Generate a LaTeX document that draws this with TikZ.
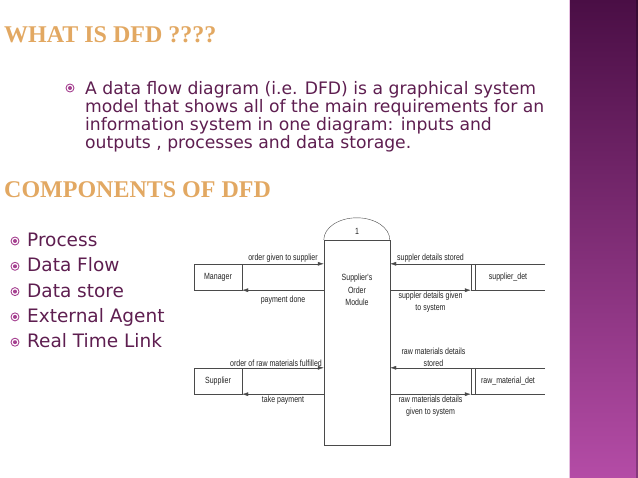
\documentclass[tikz,border=0pt]{standalone}
\usepackage{fontspec}
\setmainfont{DejaVu Sans}
\newfontfamily\titlefont{Liberation Serif}
\newfontfamily\dfdfont[FakeStretch=0.78]{Liberation Sans}
\usetikzlibrary{positioning, arrows.meta, shapes}
\definecolor{plum}{HTML}{5E1E50}
\definecolor{bulletpink}{HTML}{A54090}
\definecolor{peach}{HTML}{E2A862}
\definecolor{bartop}{HTML}{4A0E45}
\definecolor{barbot}{HTML}{B44CA6}
\definecolor{dfdline}{HTML}{4A4A4A}
\definecolor{dfdtxt}{HTML}{222222}
\tikzset{
	% slide heading
	heading/.style={
		anchor=base west,
		inner sep=0pt,
		text=peach,
		font=\titlefont\bfseries\fontsize{24}{24}\selectfont
	}, %
	% bullet mark
	slidebullet/.pic={
		\draw[bulletpink, line width=0.9pt] (0,0) circle (4pt);
		\fill[bulletpink] (0,0) circle (2pt);
	}, %
	% bullet text
	bullettext/.style={
		anchor=base west,
		inner sep=0pt,
		text=plum
	}, %
	% external agent
	entity/.style={
		draw=dfdline,
		minimum width=48pt,
		minimum height=26pt,
		inner sep=0pt,
		text=dfdtxt,
		font=\dfdfont\fontsize{9}{12}\selectfont
	}, %
	% data store
	store/.style={
		minimum width=74pt,
		minimum height=26pt,
		inner sep=0pt,
		text=dfdtxt,
		font=\dfdfont\fontsize{9}{12}\selectfont
	}, %
	% process
	procbox/.style={
		draw=dfdline,
		minimum width=66pt,
		minimum height=205pt,
		inner sep=0pt
	}, %
	dfdtext/.style={
		inner sep=0pt,
		align=center,
		text=dfdtxt,
		font=\dfdfont\fontsize{9}{12.5}\selectfont
	}, %
	flow/.style={
		draw=dfdline,
		-{Latex[length=6pt,width=4pt]}
	}, %
	flowlbl/.style={
		inner sep=1.5pt,
		align=center,
		text=dfdtxt,
		font=\dfdfont\fontsize{9}{12}\selectfont
	}
}

\begin{document}
\begin{tikzpicture}[x=1pt, y=-1pt]
			\useasboundingbox (0,0) rectangle (638,478);
			
			% side bar
			\shade[top color=bartop, bottom color=barbot] (569,0) rectangle (638,478);
			\draw[barbot!35!white, line width=1pt] (569.5,0)--(569.5,478);
			\fill[black, opacity=0.25] (636,0) rectangle (638,478);
			
			% headings
			\node[heading] (head1) at (4,43) {WHAT IS DFD ????};
			\node[heading] (head2) at (4,198) {COMPONENTS OF DFD};
			
			% definition
			\pic at (70,88) {slidebullet};
			\foreach \txt [count=\i from 0] in {%
				A data flow diagram (i.e. DFD) is a graphical system,
				model that shows all of the main requirements for an,
				information system in one diagram: inputs and,
				{outputs , processes and data storage.}}
				\node[bullettext, font=\fontsize{17.2}{18}\selectfont] (defline\i) at (85,95+18*\i) {\txt};
			
			% components
			\foreach \txt [count=\i from 0] in {Process, Data Flow, Data store, External Agent, Real Time Link}{
				\pic at (15,241+25.3*\i) {slidebullet};
				\node[bullettext, font=\fontsize{18.5}{22}\selectfont] (comp\i) at (27,246.5+25.3*\i) {\txt};
			}
			
			% process
			\node[procbox] (som) at (357,342.5) {};
			\draw[dfdline] (som.north west) arc[start angle=180, end angle=0, x radius=33pt, y radius=22pt];
			\node[dfdtext] (pnum) at (357,231) {1};
			\node[dfdtext] (pname) at (357,290) {Supplier's\\Order\\Module};
			
			% agents
			\node[entity] (mgr) at (218,277) {Manager};
			\node[entity] (sup) at (218,381) {Supplier};
			
			% stores
			\node[store] (sdet) at (508,277) {supplier\_det};
			\draw[dfdline] (sdet.north east)--(sdet.north west)--(sdet.south west)--(sdet.south east);
			\draw[dfdline] ([xshift=4pt]sdet.north west)--([xshift=4pt]sdet.south west);
			\node[store] (rdet) at (508,381) {raw\_material\_det};
			\draw[dfdline] (rdet.north east)--(rdet.north west)--(rdet.south west)--(rdet.south east);
			\draw[dfdline] ([xshift=4pt]rdet.north west)--([xshift=4pt]rdet.south west);
			
			% flows
			\draw[flow] (mgr.north east)--(mgr.north east -| som.west) node[midway, above, flowlbl] {order given to supplier};
			\draw[flow] (mgr.south east -| som.west)--(mgr.south east) node[midway, below, flowlbl, yshift=-4pt] {payment done};
			\draw[flow] (sup.north east)--(sup.north east -| som.west) node[midway, above, flowlbl, xshift=-7pt] {order of raw materials fulfilled};
			\draw[flow] (sup.south east -| som.west)--(sup.south east) node[midway, below, flowlbl] {take payment};
			\draw[flow] (sdet.north west)--(sdet.north west -| som.east) node[midway, above, flowlbl] {suppler details stored};
			\draw[flow] (sdet.south west -| som.east)--(sdet.south west) node[midway, below, flowlbl] {suppler details given\\to system};
			\draw[flow] (rdet.north west)--(rdet.north west -| som.east) node[midway, above, flowlbl, xshift=3pt] {raw materials details\\stored};
			\draw[flow] (rdet.south west -| som.east)--(rdet.south west) node[midway, below, flowlbl] {raw materials details\\given to system};
		\end{tikzpicture}
\end{document}
